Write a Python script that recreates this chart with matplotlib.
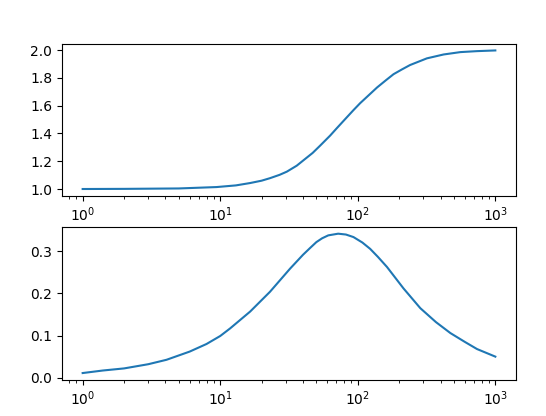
import matplotlib
matplotlib.use('Agg')
import matplotlib.pyplot as plt
from matplotlib.ticker import MultipleLocator

# values (log x axis)
x_top = [1, 2, 5, 9.4, 13, 16.5, 20, 23, 27, 30.5, 36, 40.3, 47, 53.2, 63, 70.4, 83,
         93, 104, 123, 138, 160, 182, 210, 240, 318, 421, 557, 736, 1000]
y_top = [1.0, 1.001, 1.004, 1.014, 1.026, 1.043, 1.060, 1.078, 1.102, 1.125, 1.168,
         1.207, 1.260, 1.312, 1.385, 1.438, 1.515, 1.568, 1.618, 1.685, 1.731,
         1.783, 1.827, 1.862, 1.893, 1.941, 1.969, 1.986, 1.993, 1.998]

x_bot = [1, 1.4, 2, 3, 4.07, 6, 7.95, 10, 11.8, 16.5, 23, 32.2, 40, 45, 50, 55, 61, 72, 82,
         93, 108, 123, 140, 163, 215, 285, 370, 471, 600, 736, 1000]
y_bot = [0.011, 0.017, 0.022, 0.032, 0.0425, 0.062, 0.080, 0.099, 0.117, 0.157,
         0.204, 0.259, 0.292, 0.308, 0.322, 0.331, 0.338, 0.342, 0.340, 0.334,
         0.321, 0.306, 0.287, 0.263, 0.212, 0.165, 0.132, 0.106, 0.085, 0.068, 0.050]

fig = plt.figure(figsize=(5.46, 4.16), dpi=100)
ax1 = fig.add_axes([0.1136, 0.529, 0.8314, 0.3664])
ax2 = fig.add_axes([0.1136, 0.0865, 0.8314, 0.3685])

ax1.plot(x_top, y_top)
ax1.set_xscale('log')
ax1.yaxis.set_major_locator(MultipleLocator(0.2))

ax2.plot(x_bot, y_bot)
ax2.set_xscale('log')

fig.savefig('out.png', dpi=100)
